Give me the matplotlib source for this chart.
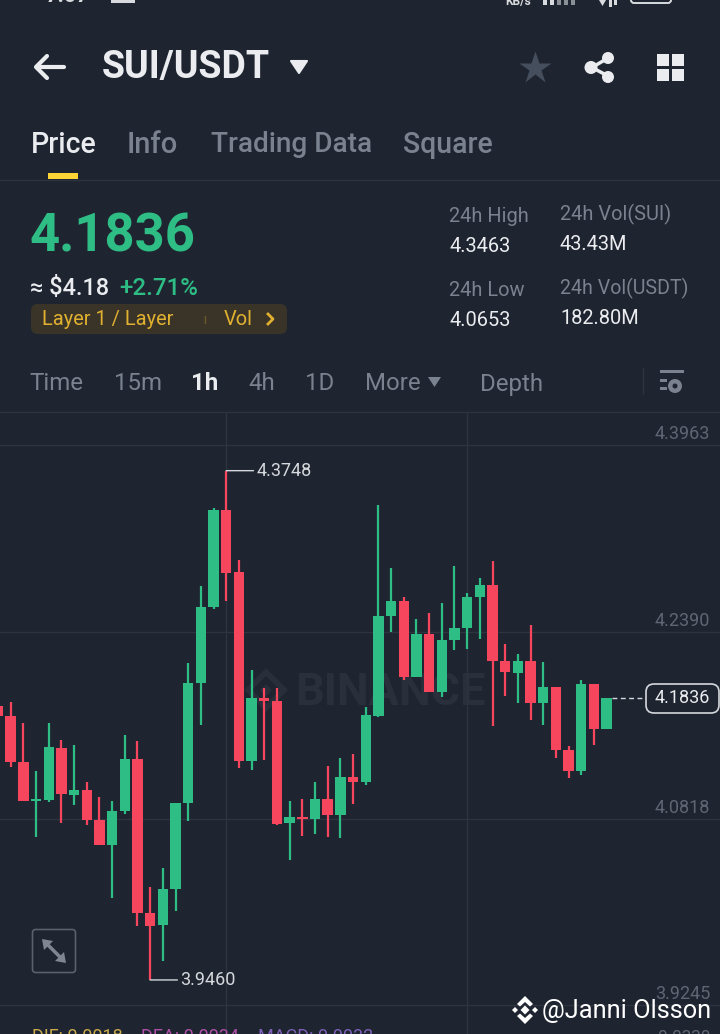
import matplotlib
matplotlib.use("Agg")
import matplotlib.pyplot as plt
from matplotlib.patches import FancyBboxPatch, Polygon, Rectangle, Circle
from matplotlib.transforms import ScaledTranslation

# ---------- data ----------
opens = [4.1767,4.1683,4.1298,4.0967,4.0975,4.1416,4.1020,4.1060,4.0807,4.0597,4.0883,4.1321,4.0024,3.9923,4.0226,4.0953,4.1961,4.2601,4.3417,4.2895,4.1306,4.1834,4.1809,4.0784,4.0832,4.0815,4.0984,4.0849,4.1172,4.1130,4.1683,4.2525,4.2654,4.2014,4.2373,4.1887,4.2323,4.2424,4.2687,4.2786,4.2146,4.2047,4.2146,4.1795,4.1929,4.1396,4.1220,4.1952,4.1571]
highs = [4.1817,4.1803,4.1626,4.1220,4.1624,4.1481,4.1439,4.1130,4.1001,4.0970,4.1523,4.1472,4.0245,4.0405,4.0953,4.2129,4.2780,4.3437,4.3748,4.2996,4.2070,4.1918,4.1918,4.0967,4.0984,4.1127,4.1262,4.1329,4.1363,4.1758,4.3459,4.2929,4.2687,4.2499,4.2550,4.2634,4.2946,4.2721,4.2845,4.2990,4.2289,4.2205,4.2449,4.2140,4.1929,4.1430,4.1986,4.1952,4.1837]
lows = [4.1666,4.1253,4.0967,4.0666,4.0959,4.0782,4.0933,4.0765,4.0597,4.0150,4.0858,3.9917,3.9460,3.9622,4.0043,4.0799,4.1607,4.2584,4.2651,4.1247,4.1228,4.1312,4.0765,4.0470,4.0672,4.0689,4.0664,4.0655,4.0942,4.1102,4.1674,4.2393,4.1986,4.2011,4.1885,4.1845,4.2238,4.2247,4.2331,4.1599,4.1851,4.1795,4.1649,4.1607,4.1332,4.1163,4.1186,4.1439,4.1571]
closes = [4.1683,4.1298,4.0967,4.0984,4.1424,4.1026,4.1060,4.0807,4.0597,4.0883,4.1321,4.0024,3.9917,4.0226,4.0953,4.1961,4.2601,4.3417,4.2889,4.1306,4.1834,4.1805,4.0773,4.0832,4.0815,4.0984,4.0849,4.1172,4.1130,4.1691,4.2525,4.2654,4.2014,4.2373,4.1885,4.2323,4.2424,4.2687,4.2786,4.2148,4.2053,4.2146,4.1795,4.1929,4.1396,4.1220,4.1952,4.1573,4.1836]
y_levels = [4.3963, 4.2390, 4.0818, 3.9245]
y_labels = ["4.3963", "4.2390", "4.0818", "3.9245"]
high_label = "4.3748"
low_label = "3.9460"
last_price = 4.1836

# ---------- style ----------
BG = "#1f2530"
GRID = "#2d333f"
UP = "#2ebd85"
DOWN = "#f6465d"
GREY = "#7a828f"
DIM = "#5f6673"
WHITE = "#eaecef"
plt.rcParams["font.family"] = ["Roboto", "DejaVu Sans"]

W, H = 720, 1034
fig = plt.figure(figsize=(W / 100, H / 100), dpi=100, facecolor=BG)
px = 0.72  # px to pt

# back layer in px coordinates (watermark)
back = fig.add_axes([0, 0, 1, 1], facecolor=BG, zorder=0)
back.set_xlim(0, W)
back.set_ylim(H, 0)
back.axis("off")
back.text(295, 693, "BINANCE", fontsize=45 * px, color="#2a303b", fontweight="bold", ha="left", va="center")
back.add_patch(Polygon([[266, 672], [284, 690], [266, 708], [248, 690]], fc="none", ec="#292f3a", lw=4))
back.add_patch(Polygon([[266, 684], [272, 690], [266, 696], [260, 690]], fc="#292f3a", ec="none"))

# chart axes: occupies y 412..1034 px
ax = fig.add_axes([0, 0, 1, (H - 412) / H], facecolor="none", zorder=1)
ax.set_xlim(0.158, 56.94)
ax.set_ylim(3.9005, 4.4242)
for s in ax.spines.values():
    s.set_visible(False)
ax.set_axisbelow(True)
ax.grid(True, axis="y", color=GRID, lw=1)
ax.set_xticks([(226 + 2) / 12.68, (467 + 2) / 12.68])
ax.set_xticklabels([])
ax.grid(True, axis="x", color=GRID, lw=1)
ax.tick_params(axis="x", length=0)
ax.yaxis.tick_right()
ax.set_yticks(y_levels)
ax.set_yticklabels(y_labels, color=DIM, fontsize=18 * px)
ax.tick_params(axis="y", length=0, pad=-10 * px)
for lbl in ax.get_yticklabels():
    lbl.set_ha("right")
    lbl.set_transform(lbl.get_transform() + ScaledTranslation(0, 13 / 100, fig.dpi_scale_trans))

# candles
for i, (o, h, l, c) in enumerate(zip(opens, highs, lows, closes)):
    col = UP if c >= o else DOWN
    ax.vlines(i, l, h, color=col, lw=1.6, zorder=3)
    ax.add_patch(Rectangle((i - 0.41, min(o, c)), 0.82, max(abs(c - o), 0.0012), facecolor=col, edgecolor="none", zorder=3))

# hi/lo annotations
hi_i = highs.index(max(highs))
lo_i = lows.index(min(lows))
for i, v, t, in ((hi_i, max(highs), high_label), (lo_i, min(lows), low_label)):
    ax.annotate(t, xy=(i, v), xytext=(i + 30 / 12.68, v), color="#d5d8dc", fontsize=18 * px,
                va="center", ha="left", zorder=5,
                arrowprops=dict(arrowstyle="-", color="#d5d8dc", lw=1, shrinkA=0, shrinkB=0))

# last price
n = len(closes) - 1
ax.plot([n + 0.45, (645 + 2) / 12.68], [last_price, last_price], color="#d5d8dc", lw=1, ls=(0, (3.5, 2.5)), zorder=4)
ax.text((682 + 2) / 12.68, last_price, f"{last_price:.4f}", color=WHITE, fontsize=18 * px, ha="center", va="center", zorder=6)

# UI overlay in px coordinates
ui = fig.add_axes([0, 0, 1, 1], facecolor="none", zorder=2)
ui.set_xlim(0, W)
ui.set_ylim(H, 0)
ui.axis("off")

def T(x, y, s, size, color=WHITE, weight="normal", ha="left", va="center", **k):
    ui.text(x, y + 1.5, s, fontsize=size * px, color=color, fontweight=weight, ha=ha, va=va, **k)

# price box
ui.add_patch(FancyBboxPatch((646, 684), 73, 29, boxstyle="round,pad=0,rounding_size=8", fc="none", ec="#d5d8dc", lw=1.2, zorder=1))

# status bar
T(45, -5, "7:07", 22, color="#d8dade", weight="bold")
ui.add_patch(Rectangle((111, -6), 24, 9, fc="#d8dade", ec="none"))
T(505, 0, "KB/s", 12, color="#d8dade", weight="bold")
for k, x in enumerate((543, 550, 557, 564, 571)):
    ui.add_patch(Rectangle((x, -4), 4, 9, fc="#d8dade" if k < 2 else "#8b8f96", ec="none"))
ui.add_patch(Polygon([[599, 0], [606, 0], [602.5, 6]], fc="#d8dade", ec="none"))
ui.add_patch(Rectangle((609, -2), 3, 9, fc="#d8dade", ec="none"))
ui.add_patch(Rectangle((614, -2), 3, 7, fc="#d8dade", ec="none"))
ui.add_patch(FancyBboxPatch((631, -10), 40, 13, boxstyle="round,pad=0,rounding_size=3", fc="none", ec="#d8dade", lw=1.4))

# header
ui.plot([37, 64], [67, 67], color=WHITE, lw=3, solid_capstyle="round")
ui.plot([47, 36, 47], [56, 67, 78], color=WHITE, lw=3, solid_capstyle="round", solid_joinstyle="round")
T(102, 66.5, "SUI/USDT", 37.5, weight="bold")
ui.add_patch(Polygon([[291, 61], [307, 61], [299, 73]], fc=WHITE, ec=WHITE, lw=1.5, joinstyle="round"))
ui.plot([534.5], [67.5], marker="*", ms=34 * px * 1.0, color="#454e5d", mec="none")
ui.plot([608, 592, 608], [58, 67.5, 76], color=WHITE, lw=2.5)
for cx, cy, r in ((608, 58, 6), (591, 67.5, 6.5), (608, 77, 6)):
    ui.add_patch(Circle((cx, cy), r, fc=WHITE, ec="none"))
for x, y in ((657, 54), (672, 54), (657, 69), (672, 69)):
    ui.add_patch(Rectangle((x, y), 11.5, 11.5, fc=WHITE, ec="none"))

# tabs
T(31, 143.5, "Price", 28.5, weight="medium")
T(127, 143.5, "Info", 29, color=GREY, weight="medium")
T(211, 143.5, "Trading Data", 28, color=GREY, weight="medium")
T(403, 143.5, "Square", 28.5, color=GREY, weight="medium")
ui.add_patch(Rectangle((48, 173), 30, 6, fc="#fcd535", ec="none"))
ui.plot([0, W], [179.5, 179.5], color=GRID, lw=1)

# stats
T(30, 236, "4.1836", 52.5, color=UP, weight="bold")
T(30, 287, "≈ $4.18", 23.5, weight="medium")
T(119, 287, "+2.71%", 24, color=UP, weight="medium")
ui.add_patch(FancyBboxPatch((31, 304), 256, 30, boxstyle="round,pad=0,rounding_size=7", fc="#3a3428", ec="none"))
T(42, 318, "Layer 1 / Layer", 20, color="#e0b030")
ui.plot([204.5, 204.5], [316, 323], color="#6b5a2c", lw=1)
T(224, 318, "Vol", 20, color="#e0b030")
ui.plot([268, 273, 268], [314, 319, 324], color="#e0b030", lw=2)
T(449, 215, "24h High", 20, color=GREY)
T(449, 245, "4.3463", 20)
T(560, 213, "24h Vol(SUI)", 20, color=GREY)
T(560, 243, "43.43M", 20)
T(449, 289, "24h Low", 20, color=GREY)
T(449, 319, "4.0653", 20)
T(560, 287, "24h Vol(USDT)", 19.7, color=GREY)
T(560, 317, "182.80M", 20)

# interval row
for x, s, col, w in ((29, "Time", GREY, "normal"), (114, "15m", GREY, "normal"), (191, "1h", WHITE, "bold"),
                     (248, "4h", GREY, "normal"), (305, "1D", GREY, "normal"), (365, "More", GREY, "normal"),
                     (480, "Depth", GREY, "normal")):
    T(x, 382.5, s, 24, color=col, weight=w)
ui.add_patch(Polygon([[428, 377], [441, 377], [434.5, 387]], fc=GREY, ec="none"))
ui.plot([642.5, 642.5], [368, 394], color=GRID, lw=1)
ui.add_patch(Rectangle((660, 370), 24, 3, fc=GREY, ec="none"))
for y in (379, 387):
    ui.add_patch(Rectangle((660, y), 7, 3, fc=GREY, ec="none"))
ui.add_patch(Circle((675, 386), 7, fc=GREY, ec="none"))
ui.add_patch(Circle((675, 386), 2.5, fc=BG, ec="none"))
ui.plot([0, W], [412, 412], color=GRID, lw=1)

# expand button
ui.add_patch(FancyBboxPatch((32.5, 929.5), 43, 43, boxstyle="round,pad=0,rounding_size=3", fc="none", ec="#5a606c", lw=1.2))
ui.plot([46, 62], [943, 959], color="#7f8591", lw=2.5)
ui.add_patch(Polygon([[42, 939], [53, 941], [44, 950]], fc="#7f8591", ec="none"))
ui.add_patch(Polygon([[66, 963], [55, 961], [64, 952]], fc="#7f8591", ec="none"))

# indicator row (cut off at the bottom)
T(32, 1036, "DIF: 0.0018", 18, color="#c9a94a")
T(141, 1036, "DEA: 0.0034", 18, color="#b04fa8")
T(258, 1036, "MACD: 0.0032", 18, color="#7d5fb8")
T(710, 1036, "0.0330", 17, color=DIM, ha="right")

# credit
T(542, 1009.5, "@Janni Olsson", 25.4, color="#ffffff", zorder=8)
cx, cy = 525, 1010
for dx, dy, r in ((0, 0, 4.5), (-10, 0, 3), (10, 0, 3)):
    ui.add_patch(Polygon([[cx + dx, cy + dy - r], [cx + dx + r, cy + dy], [cx + dx, cy + dy + r], [cx + dx - r, cy + dy]],
                         fc="#ffffff", ec="none", zorder=8))
for s in (-1, 1):
    ui.add_patch(Polygon([[cx - 8, cy + s * 6], [cx, cy + s * 14], [cx + 8, cy + s * 6], [cx + 5, cy + s * 3.5],
                          [cx, cy + s * 8], [cx - 5, cy + s * 3.5]], fc="#ffffff", ec="none", zorder=8))

fig.savefig("out.png", dpi=100, facecolor=BG)
